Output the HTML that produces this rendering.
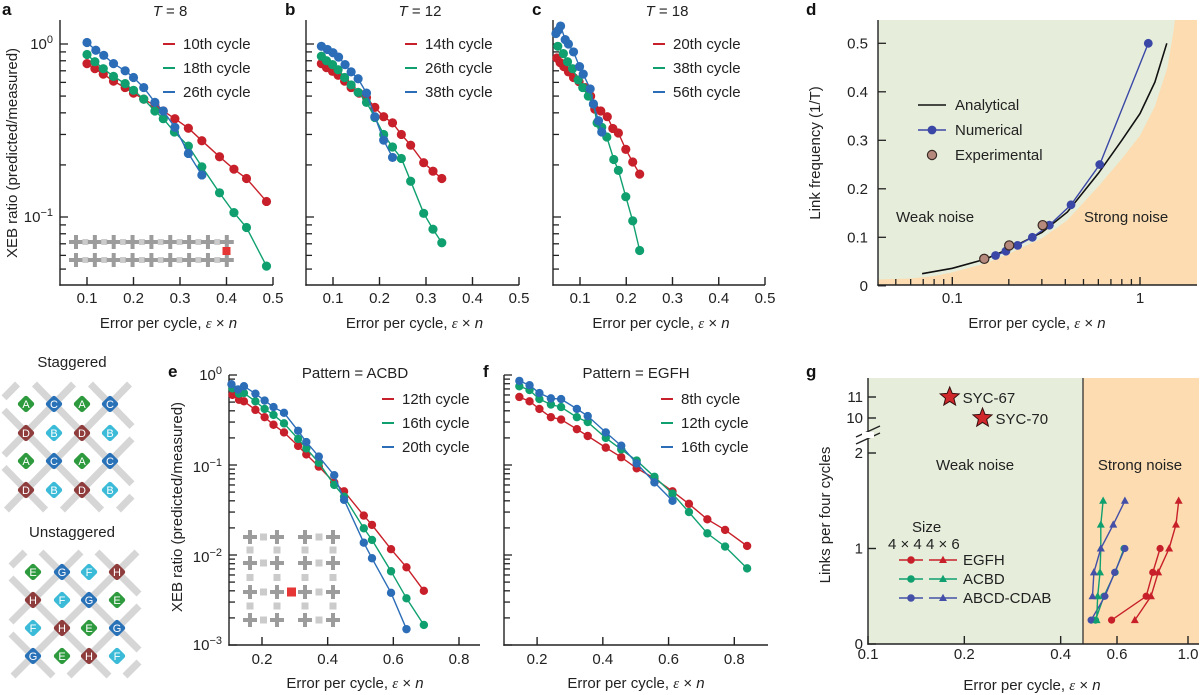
<!DOCTYPE html>
<html><head><meta charset="utf-8"><style>
html,body{margin:0;padding:0;background:#fff;overflow:hidden;}
svg{display:block;font-family:"Liberation Sans",sans-serif;}
</style></head><body>
<svg id="fig" width="1200" height="695" viewBox="0 0 1200 695" xmlns="http://www.w3.org/2000/svg"></svg>
<script>
// ---------- DATA ----------
const aRedX=[0.1,0.117,0.135,0.157,0.182,0.2,0.222,0.246,0.264,0.289,0.318,0.347,0.385,0.416,0.443,0.486];
const aRedY=[0.77,0.72,0.67,0.61,0.56,0.52,0.48,0.44,0.41,0.37,0.326,0.276,0.223,0.189,0.167,0.123];
const aGreenX=[0.1,0.117,0.135,0.157,0.182,0.2,0.222,0.246,0.264,0.288,0.318,0.347,0.385,0.416,0.443,0.486];
const aGreenY=[0.87,0.79,0.72,0.65,0.59,0.54,0.48,0.41,0.37,0.31,0.257,0.195,0.138,0.106,0.087,0.052];
const aBlueX=[0.1,0.119,0.136,0.157,0.182,0.2,0.222,0.246,0.264,0.289,0.318,0.347];
const aBlueY=[1.02,0.92,0.86,0.77,0.70,0.64,0.56,0.46,0.41,0.33,0.233,0.175];
const bRedX=[0.075,0.086,0.099,0.111,0.125,0.139,0.156,0.172,0.19,0.209,0.228,0.247,0.267,0.295,0.315,0.334];
const bRedY=[0.77,0.73,0.695,0.66,0.61,0.56,0.52,0.49,0.43,0.38,0.35,0.30,0.26,0.206,0.184,0.167];
const bGreenX=[0.075,0.086,0.099,0.111,0.125,0.139,0.154,0.172,0.19,0.209,0.228,0.247,0.267,0.295,0.315,0.334];
const bGreenY=[0.85,0.80,0.76,0.71,0.64,0.58,0.525,0.46,0.376,0.30,0.254,0.218,0.161,0.105,0.085,0.071];
const bBlueX=[0.075,0.088,0.1,0.112,0.126,0.139,0.154,0.172,0.19,0.209,0.228];
const bBlueY=[0.97,0.93,0.89,0.84,0.76,0.69,0.63,0.52,0.38,0.278,0.221];
const cRedX=[0.05,0.057,0.065,0.075,0.086,0.098,0.111,0.123,0.132,0.145,0.159,0.171,0.183,0.199,0.214,0.229];
const cRedY=[0.83,0.78,0.74,0.69,0.64,0.605,0.56,0.50,0.42,0.41,0.38,0.325,0.306,0.246,0.208,0.177];
const cGreenX=[0.052,0.064,0.073,0.084,0.096,0.106,0.118,0.129,0.137,0.147,0.158,0.173,0.183,0.199,0.214,0.229];
const cGreenY=[0.97,0.88,0.79,0.72,0.62,0.56,0.50,0.45,0.35,0.33,0.29,0.215,0.186,0.131,0.095,0.064];
const cBlueX=[0.048,0.053,0.058,0.068,0.075,0.086,0.099,0.107,0.122,0.129,0.14,0.147];
const cBlueY=[1.15,1.2,1.27,1.06,1.0,0.90,0.74,0.67,0.55,0.45,0.36,0.31];
const eRedX=[0.11,0.13,0.145,0.18,0.208,0.235,0.267,0.31,0.335,0.373,0.42,0.45,0.51,0.535,0.593,0.64,0.693];
const eRedY=[0.60,0.53,0.51,0.41,0.34,0.28,0.23,0.163,0.131,0.096,0.064,0.051,0.0274,0.0216,0.0116,0.0073,0.0040];
const eGreenX=[0.11,0.13,0.145,0.18,0.208,0.235,0.267,0.31,0.335,0.373,0.42,0.45,0.51,0.535,0.593,0.64,0.693];
const eGreenY=[0.71,0.62,0.63,0.51,0.42,0.36,0.29,0.195,0.153,0.106,0.060,0.0445,0.0198,0.0147,0.0066,0.0033,0.00167];
const eBlueX=[0.107,0.127,0.145,0.18,0.208,0.235,0.267,0.31,0.335,0.373,0.42,0.45,0.51,0.535,0.593,0.64];
const eBlueY=[0.79,0.69,0.75,0.62,0.52,0.44,0.38,0.24,0.18,0.124,0.077,0.041,0.0137,0.0092,0.0038,0.0015];
const fRedX=[0.146,0.177,0.207,0.242,0.273,0.321,0.354,0.409,0.456,0.503,0.557,0.612,0.662,0.718,0.772,0.839];
const fRedY=[0.57,0.51,0.42,0.34,0.32,0.25,0.21,0.156,0.122,0.092,0.071,0.051,0.037,0.0249,0.019,0.0126];
const fGreenX=[0.146,0.177,0.207,0.242,0.273,0.321,0.354,0.409,0.456,0.503,0.557,0.612,0.662,0.718,0.772,0.839];
const fGreenY=[0.75,0.68,0.54,0.47,0.44,0.34,0.30,0.20,0.149,0.112,0.074,0.048,0.030,0.0174,0.0124,0.0071];
const fBlueX=[0.146,0.177,0.207,0.242,0.273,0.321,0.354,0.409,0.456,0.503,0.557,0.612];
const fBlueY=[0.86,0.77,0.63,0.55,0.54,0.42,0.35,0.23,0.164,0.104,0.064,0.040];
const dAnalyticX=[0.069,0.1,0.15,0.2,0.3,0.41,0.6,0.8,1.0,1.2,1.39];
const dAnalyticY=[0.025,0.036,0.055,0.076,0.11,0.152,0.232,0.30,0.355,0.42,0.5];
const dNumX=[0.170,0.193,0.223,0.267,0.329,0.429,0.61,1.107];
const dNumY=[0.0625,0.0714,0.0833,0.1,0.125,0.167,0.25,0.5];
const dExpX=[0.148,0.201,0.303];
const dExpY=[0.0556,0.0833,0.125];
const dBoundX=[0.04,0.06,0.08,0.1,0.15,0.2,0.3,0.41,0.6,0.8,1.0,1.2,1.4,1.5,1.6];
const dBoundY=[0.013,0.015,0.02,0.028,0.046,0.066,0.098,0.135,0.205,0.262,0.31,0.37,0.45,0.52,0.6];
const gEgfhCX=[0.577,0.740,0.776,0.818], gEgfhCY=[0.25,0.5,0.75,1.0];
const gEgfhTX=[0.682,0.766,0.807,0.873,0.917,0.935], gEgfhTY=[0.25,0.5,0.75,1.0,1.25,1.5];
const gAcbdCX=[0.514,0.546,0.592,0.631], gAcbdCY=[0.25,0.5,0.75,1.0];
const gAcbdTX=[0.518,0.522,0.531,0.534,0.534,0.543], gAcbdTY=[0.25,0.5,0.75,1.0,1.25,1.5];
const gAbcdCX=[0.498,0.55,0.59,0.635], gAbcdCY=[0.25,0.5,0.75,1.0];
const gAbcdTX=[0.503,0.508,0.534,0.584,0.635], gAbcdTY=[0.5,0.75,1.0,1.25,1.5];
const gStarX=[0.180,0.228], gStarY=[11,10], gStarLabels=["SYC-67","SYC-70"];
const xTicksABC=[0.1,0.2,0.3,0.4,0.5];
const xTicksEF=[0.2,0.4,0.6,0.8];

// ---------- HELPERS ----------
const NS="http://www.w3.org/2000/svg";
const svg=document.getElementById('fig');
function el(tag,attrs,parent){const e=document.createElementNS(NS,tag);for(const k in attrs)e.setAttribute(k,attrs[k]);(parent||svg).appendChild(e);return e;}
function txt(x,y,s,attrs,parent){const t=el('text',Object.assign({x:x,y:y,'font-size':15,fill:'#222'},attrs||{}),parent);t.textContent=s;return t;}
function linS(d0,d1,r0,r1){return v=>r0+(v-d0)/(d1-d0)*(r1-r0);}
function logS(d0,d1,r0,r1){const a=Math.log10(d0),b=Math.log10(d1);return v=>r0+(Math.log10(v)-a)/(b-a)*(r1-r0);}
const RED='#c8202a',GREEN='#10a070',BLUE='#2c6db8';
function series(xs,ys,xS,yS,color,r,name){
  const g=el('g',{});
  
  
  const pts=xs.map((x,i)=>xS(x).toFixed(1)+','+yS(ys[i]).toFixed(1)).join(' ');
  const pl=el('polyline',{points:pts,fill:'none',stroke:color,'stroke-width':1.4},g);
  
  
  xs.forEach((x,i)=>{
    const c=el('circle',{cx:xS(x),cy:yS(ys[i]),r:r,fill:color},g);
    
    
  });
  return g;
}
function tri(cx,cy,s,color,g){
  const p=el('polygon',{points:`${cx},${cy-s} ${cx-s*0.95},${cy+s*0.7} ${cx+s*0.95},${cy+s*0.7}`,fill:color},g);
  
  
}
function axes(left,right,top,bottom,name){
  const g=el('g',{stroke:'#222','stroke-width':1.4,fill:'none'});
  
  
  el('line',{x1:left,y1:top,x2:left,y2:bottom+0.7},g);
  el('line',{x1:left-0.7,y1:bottom,x2:right,y2:bottom},g);
  return g;
}
function xticks(vals,xS,bottom,labels,ly,g,len){
  vals.forEach((v,i)=>{
    el('line',{x1:xS(v),y1:bottom,x2:xS(v),y2:bottom-(len||8),stroke:'#222','stroke-width':1.4},g);
    if(labels){const t=txt(xS(v),ly,labels[i],{'text-anchor':'middle'});
      
      }
  });
}
function logYticks(lo,hi,yS,left,g,top,bottom){
  for(let e=lo;e<hi;e++){for(let m=1;m<10;m++){const v=m*Math.pow(10,e);const y=yS(v);if(y<top-1||y>bottom-2)continue;
    el('line',{x1:left,y1:y,x2:left+(m===1?8:6),y2:y,stroke:'#222','stroke-width':1.3},g);}}
  const y=yS(Math.pow(10,hi));if(y>=top-1)el('line',{x1:left,y1:y,x2:left+8,y2:y,stroke:'#222','stroke-width':1.3},g);
}
function powLabel(x,y,exp){
  const t=txt(x,y,'10',{'text-anchor':'end'});
  
  
  const s=el('tspan',{dy:-6,'font-size':11},t);s.textContent=exp;
  return t;
}
function ylabel(x,y,s,name){
  const t=txt(x,y,s,{'text-anchor':'middle',transform:`rotate(-90 ${x} ${y})`});
  
  
  return t;
}
function xlabel(x,y,name){
  const t=txt(x,y,'Error per cycle, ',{'text-anchor':'middle'});
  
  
  const a=el('tspan',{'font-family':'Liberation Serif, serif','font-style':'italic'},t);a.textContent='ε';
  const b=el('tspan',{},t);b.textContent=' × ';
  const c=el('tspan',{'font-style':'italic'},t);c.textContent='n';
}
function letter(x,y,s){const t=txt(x,y,s,{'font-weight':'bold','font-size':17,fill:'#111'});
  
  }
function legend(x,y0,labels,colors,name){
  const g=el('g',{});
  
  
  labels.forEach((l,i)=>{const y=y0+i*24;
    const ln=el('line',{x1:x,y1:y,x2:x+12,y2:y,stroke:colors[i],'stroke-width':2},g);
    
    
    const t=txt(x+20,y+5,l,{},g);
    
    });
}
function plus(x,y,g){el('rect',{x:x-7,y:y-2,width:14,height:4,fill:'#9c9c9c'},g);el('rect',{x:x-2,y:y-7,width:4,height:14,fill:'#9c9c9c'},g);}
function sq(x,y,col,s,g){el('rect',{x:x-s/2,y:y-s/2,width:s,height:s,fill:col},g);}
// clip a segment to a rectangle (Liang-Barsky)
function clipSeg(x1,y1,x2,y2,L,T,R,B){
  let t0=0,t1=1;const dx=x2-x1,dy=y2-y1;
  const p=[-dx,dx,-dy,dy],q=[x1-L,R-x1,y1-T,B-y1];
  for(let i=0;i<4;i++){if(p[i]===0){if(q[i]<0)return null;}else{const r=q[i]/p[i];
    if(p[i]<0){if(r>t1)return null;if(r>t0)t0=r;}else{if(r<t0)return null;if(r<t1)t1=r;}}}
  return [x1+t0*dx,y1+t0*dy,x1+t1*dx,y1+t1*dy];
}

// ---------- PANELS a, b, c ----------
const ySabc=logS(0.1,1,217,44);
const abcDefs=[
 {L:'a',T:'8',left:60,x0:87,x1:273,data:[[aRedX,aRedY,RED],[aGreenX,aGreenY,GREEN],[aBlueX,aBlueY,BLUE]],leg:['10th cycle','18th cycle','26th cycle'],lx:163,tx:170,letx:2},
 {L:'b',T:'12',left:306,x0:333,x1:519,data:[[bRedX,bRedY,RED],[bGreenX,bGreenY,GREEN],[bBlueX,bBlueY,BLUE]],leg:['14th cycle','26th cycle','38th cycle'],lx:405,tx:420,letx:285},
 {L:'c',T:'18',left:553,x0:580,x1:765,data:[[cRedX,cRedY,RED],[cGreenX,cGreenY,GREEN],[cBlueX,cBlueY,BLUE]],leg:['20th cycle','38th cycle','56th cycle'],lx:653,tx:667,letx:532}
];
abcDefs.forEach(p=>{
  const xS=linS(0.1,0.5,p.x0,p.x1);
  const g=axes(p.left,p.x1,20,285,'axes-'+p.L);
  logYticks(-2,0,ySabc,p.left,g,20,285);
  xticks(xTicksABC,xS,285,xTicksABC.map(v=>v.toFixed(1)),303,g);
  letter(p.letx,15,p.L);
  const t=txt(p.tx,16,'',{'text-anchor':'middle'});
  
  
  const ti=el('tspan',{'font-style':'italic'},t);ti.textContent='T';
  const tr=el('tspan',{},t);tr.textContent=' = '+p.T;
  xlabel((p.left+p.x1)/2+2,328,'x-axis-title-'+p.L);
  p.data.forEach((d,i)=>series(d[0],d[1],xS,ySabc,d[2],4.6,'series-'+p.L+'-'+i));
  legend(p.lx,44,p.leg,[RED,GREEN,BLUE],'legend-'+p.L);
});
powLabel(53,49,'0');powLabel(53,222,'−1');
ylabel(17,153,'XEB ratio (predicted/measured)','y-axis-title-a');
// inset a
(function(){const g=el('g',{});
 [242,260].forEach(y=>{for(let i=0;i<9;i++){const x=76+i*18.85;plus(x,y,g);if(i<8)sq(x+9.4,y,'#cbcbcb',6,g);}});
 sq(226.5,251,'#e53535',8,g);})();

// ---------- PANEL d ----------
(function(){
 const xS=logS(0.1,1,952.3,1140), yS=linS(0,0.5,285.8,43.3);
 const cp=el('clipPath',{id:'clipd'});el('rect',{x:878,y:20,width:319,height:265},cp);
 const bg=el('g',{'clip-path':'url(#clipd)'});
 
 
 el('rect',{x:878,y:20,width:319,height:265,fill:'#e6eedb'},bg);
 const pts=dBoundX.map((x,i)=>xS(x).toFixed(1)+','+yS(dBoundY[i]).toFixed(1));
 pts.push('1197,20','1197,285','878,285','878,'+yS(dBoundY[0]).toFixed(1));
 el('polygon',{points:pts.join(' '),fill:'#fcdcb0'},bg);
 const g=axes(878,1197,20,285,'axes-d');
 [0,0.1,0.2,0.3,0.4,0.5].forEach(v=>{el('line',{x1:878,y1:yS(v),x2:886,y2:yS(v),stroke:'#222','stroke-width':1.3},g);
   const t=txt(868,yS(v)+5,v===0?'0':v.toFixed(1),{'text-anchor':'end'});
   
   });
 [0.05,0.06,0.07,0.08,0.09,0.2,0.3,0.4,0.5,0.6,0.7,0.8,0.9].forEach(v=>el('line',{x1:xS(v),y1:285,x2:xS(v),y2:279,stroke:'#222','stroke-width':1.3},g));
 xticks([0.1,1],xS,285,['0.1','1'],303,g);
 const an=el('polyline',{points:dAnalyticX.map((x,i)=>xS(x).toFixed(1)+','+yS(dAnalyticY[i]).toFixed(1)).join(' '),fill:'none',stroke:'#111','stroke-width':1.6});
 
 
 series(dNumX,dNumY,xS,yS,'#3b47a6',4.4,'numerical-series');
 dExpX.forEach((x,i)=>{const c=el('circle',{cx:xS(x),cy:yS(dExpY[i]),r:4.6,fill:'#b58a7c',stroke:'#3a2a25','stroke-width':1.2});
   
   });
 letter(806,15,'d');
 ylabel(820,153,'Link frequency (1/T)','y-axis-title-d');
 xlabel(1037,328,'x-axis-title-d');
 const w=txt(896,222,'Weak noise');
 const s=txt(1084,222,'Strong noise');
 const lg=el('g',{});
 el('line',{x1:918,y1:105,x2:946,y2:105,stroke:'#111','stroke-width':1.6},lg);
 el('line',{x1:918,y1:130,x2:946,y2:130,stroke:'#3b47a6','stroke-width':1.4},lg);
 el('circle',{cx:932,cy:130,r:4.4,fill:'#3b47a6'},lg);
 el('circle',{cx:932,cy:155,r:4.6,fill:'#b58a7c',stroke:'#3a2a25','stroke-width':1.2},lg);
 ['Analytical','Numerical','Experimental'].forEach((l,i)=>{const t=txt(955,110+i*25,l,{},lg);
   
   });
})();

// ---------- LATTICES ----------
(function(){
 const cols={A:'#2e9a3e',C:'#2a72b8',D:'#8e3c3c',B:'#3bbbd8',E:'#2e9a3e',G:'#2a72b8',H:'#8e3c3c',F:'#3bbbd8'};
 function lattice(xs,ys,labels,name,phase){
  const g=el('g',{});
  const bgG=el('g',{stroke:'#d6d6d6','stroke-width':7},g);
  const dx=(xs[3]-xs[0])/3, dy=(ys[3]-ys[0])/3;
  const L=xs[0]-22,R=xs[3]+22,T=ys[0]-20,B=ys[3]+20;
  for(let k=-6;k<=6;k+=2){
    const x0=xs[0]+(k+phase)*dx, y0=ys[0];
    let s=clipSeg(x0-200,y0-200*dy/dx,x0+200,y0+200*dy/dx,L,T,R,B);
    if(s)el('line',{x1:s[0],y1:s[1],x2:s[2],y2:s[3]},bgG);
    s=clipSeg(x0+200,y0-200*dy/dx,x0-200,y0+200*dy/dx,L,T,R,B);
    if(s)el('line',{x1:s[0],y1:s[1],x2:s[2],y2:s[3]},bgG);
  }
  labels.forEach((row,r)=>row.forEach((Lb,c)=>{
   const x=xs[c],y=ys[r];
   const d=el('rect',{x:x-6.5,y:y-6.5,width:13,height:13,rx:2.5,fill:cols[Lb],transform:`rotate(45 ${x} ${y})`},g);
   
   
   const t=txt(x,y+4,Lb,{'text-anchor':'middle','font-size':11,fill:'#fff'},g);
   
   }));
 }
 const t1=txt(72,367,'Staggered',{'text-anchor':'middle'});
 lattice([26,54,82,110],[404,433,461,490],[['A','C','A','C'],['D','B','D','B'],['A','C','A','C'],['D','B','D','B']],'staggered-lattice',1);
 const t2=txt(72,537,'Unstaggered',{'text-anchor':'middle'});
 lattice([33,62,89,117],[572,600,628,656],[['E','G','F','H'],['H','F','G','E'],['F','H','E','G'],['G','E','H','F']],'unstaggered-lattice',1);
})();

// ---------- PANELS e, f ----------
const ySef=logS(0.001,1,645,375);
const efDefs=[
 {L:'e',left:229,right:480,xa:262,xb:459,d:[[eRedX,eRedY,RED],[eGreenX,eGreenY,GREEN],[eBlueX,eBlueY,BLUE]],leg:['12th cycle','16th cycle','20th cycle'],lx:382,title:'Pattern = ACBD',tx:355,letx:168},
 {L:'f',left:504,right:768,xa:537.1,xb:734.3,d:[[fRedX,fRedY,RED],[fGreenX,fGreenY,GREEN],[fBlueX,fBlueY,BLUE]],leg:['8th cycle','12th cycle','16th cycle'],lx:661,title:'Pattern = EGFH',tx:636,letx:483}
];
efDefs.forEach(p=>{
 const xS=linS(0.2,0.8,p.xa,p.xb);
 const g=axes(p.left,p.right,375,645,'axes-'+p.L);
 logYticks(-3,0,ySef,p.left,g,374,660);
 xticks(xTicksEF,xS,645,xTicksEF.map(v=>v.toFixed(1)),664,g);
 letter(p.letx,377,p.L);
 const t=txt(p.tx,378,p.title,{'text-anchor':'middle'});
 xlabel(p.L==='e'?355:636,688,'x-axis-title-'+p.L);
 p.d.forEach((d,i)=>series(d[0],d[1],xS,ySef,d[2],4.2,'series-'+p.L+'-'+i));
 legend(p.lx,399,p.leg,[RED,GREEN,BLUE],'legend-'+p.L);
});
powLabel(222,380,'0');powLabel(222,472,'−1');powLabel(222,562,'−2');powLabel(222,650,'−3');
ylabel(182,507,'XEB ratio (predicted/measured)','y-axis-title-e');
(function(){const g=el('g',{});
 const xs=[250,277,305,333],ys=[537,563,592,620];
 ys.forEach(y=>{sq(263.5,y,'#cbcbcb',7,g);sq(319,y,'#cbcbcb',7,g);});
 xs.forEach(x=>[550,577.5,606].forEach(y=>sq(x,y,'#cbcbcb',7,g)));
 ys.forEach(y=>xs.forEach(x=>plus(x,y,g)));
 sq(291.5,592,'#e53535',9,g);})();

// ---------- PANEL g ----------
(function(){
 const xS=logS(0.1,1,868,1188), yL=linS(0,2,644,453), yU=linS(10,11,418,397);
 const bg=el('g',{});
 el('rect',{x:868,y:378,width:331,height:266,fill:'#e6eedb'},bg);
 el('rect',{x:1083,y:378,width:116,height:266,fill:'#fcdcb0'},bg);
 el('line',{x1:1083,y1:378,x2:1083,y2:644,stroke:'#333','stroke-width':1.3},bg);
 const g=el('g',{stroke:'#222','stroke-width':1.4,fill:'none'});
 
 el('line',{x1:868,y1:378,x2:868,y2:431},g);el('line',{x1:868,y1:439,x2:868,y2:644.7},g);
 el('line',{x1:867.3,y1:644,x2:1199,y2:644},g);
 el('line',{x1:856,y1:437,x2:880,y2:426},g);el('line',{x1:856,y1:444,x2:880,y2:433},g);
 el('rect',{x:862,y:432,width:12,height:6,fill:'#fff',stroke:'none'},g);
 [[0,yL],[1,yL],[2,yL],[10,yU],[11,yU]].forEach(([v,s])=>{el('line',{x1:868,y1:s(v),x2:876,y2:s(v)},g);
   const t=txt(863,s(v)+5,String(v),{'text-anchor':'end',stroke:'none'});
   });
 xticks([0.1,0.2,0.4,0.6,1.0],xS,644,['0.1','0.2','0.4','0.6','1.0'],659,g);
 const w=txt(975,470,'Weak noise',{'text-anchor':'middle'});
 const s=txt(1140,470,'Strong noise',{'text-anchor':'middle'});
 const gb='#4450a8';
 series(gEgfhCX,gEgfhCY,xS,yL,RED,3.6,'egfh-4x4');
 series(gAcbdCX,gAcbdCY,xS,yL,GREEN,3.6,'acbd-4x4');
 series(gAbcdCX,gAbcdCY,xS,yL,gb,3.6,'abcd-cdab-4x4');
 [[gEgfhTX,gEgfhTY,RED,'egfh-4x6'],[gAcbdTX,gAcbdTY,GREEN,'acbd-4x6'],[gAbcdTX,gAbcdTY,gb,'abcd-cdab-4x6']].forEach(([xs,ys,c,n])=>{
   const sg=el('g',{});
   el('polyline',{points:xs.map((x,i)=>xS(x).toFixed(1)+','+yL(ys[i]).toFixed(1)).join(' '),fill:'none',stroke:c,'stroke-width':1.4},sg);
   xs.forEach((x,i)=>tri(xS(x),yL(ys[i]),4.2,c,sg));});
 gStarX.forEach((x,i)=>{const cx=xS(x),cy=yU(gStarY[i]);let p=[];
   for(let k=0;k<10;k++){const a=-Math.PI/2+k*Math.PI/5,r=k%2?4.4:10;p.push((cx+r*Math.cos(a)).toFixed(1)+','+(cy+r*Math.sin(a)).toFixed(1));}
   const st=el('polygon',{points:p.join(' '),fill:'#d0282a',stroke:'#3a1010','stroke-width':1});
   
   const t=txt(cx+13,cy+6,gStarLabels[i]);});
 const lg=el('g',{});
 txt(912,532,'Size',{},lg);txt(888,549,'4 × 4  4 × 6',{},lg);
 [['EGFH',RED],['ACBD',GREEN],['ABCD-CDAB',gb]].forEach(([l,c],i)=>{const y=560+i*19;
   el('line',{x1:899,y1:y,x2:923,y2:y,stroke:c,'stroke-width':1.6},lg);el('circle',{cx:911,cy:y,r:3.8,fill:c},lg);
   el('line',{x1:929,y1:y,x2:957,y2:y,stroke:c,'stroke-width':1.6},lg);tri(943,y,4.2,c,lg);
   const t=txt(963,y+5,l,{},lg);});
 letter(806,377,'g');
 ylabel(830,515,'Links per four cycles','y-axis-title-g');
 xlabel(1032,690,'x-axis-title-g');
})();
</script>
</body></html>
